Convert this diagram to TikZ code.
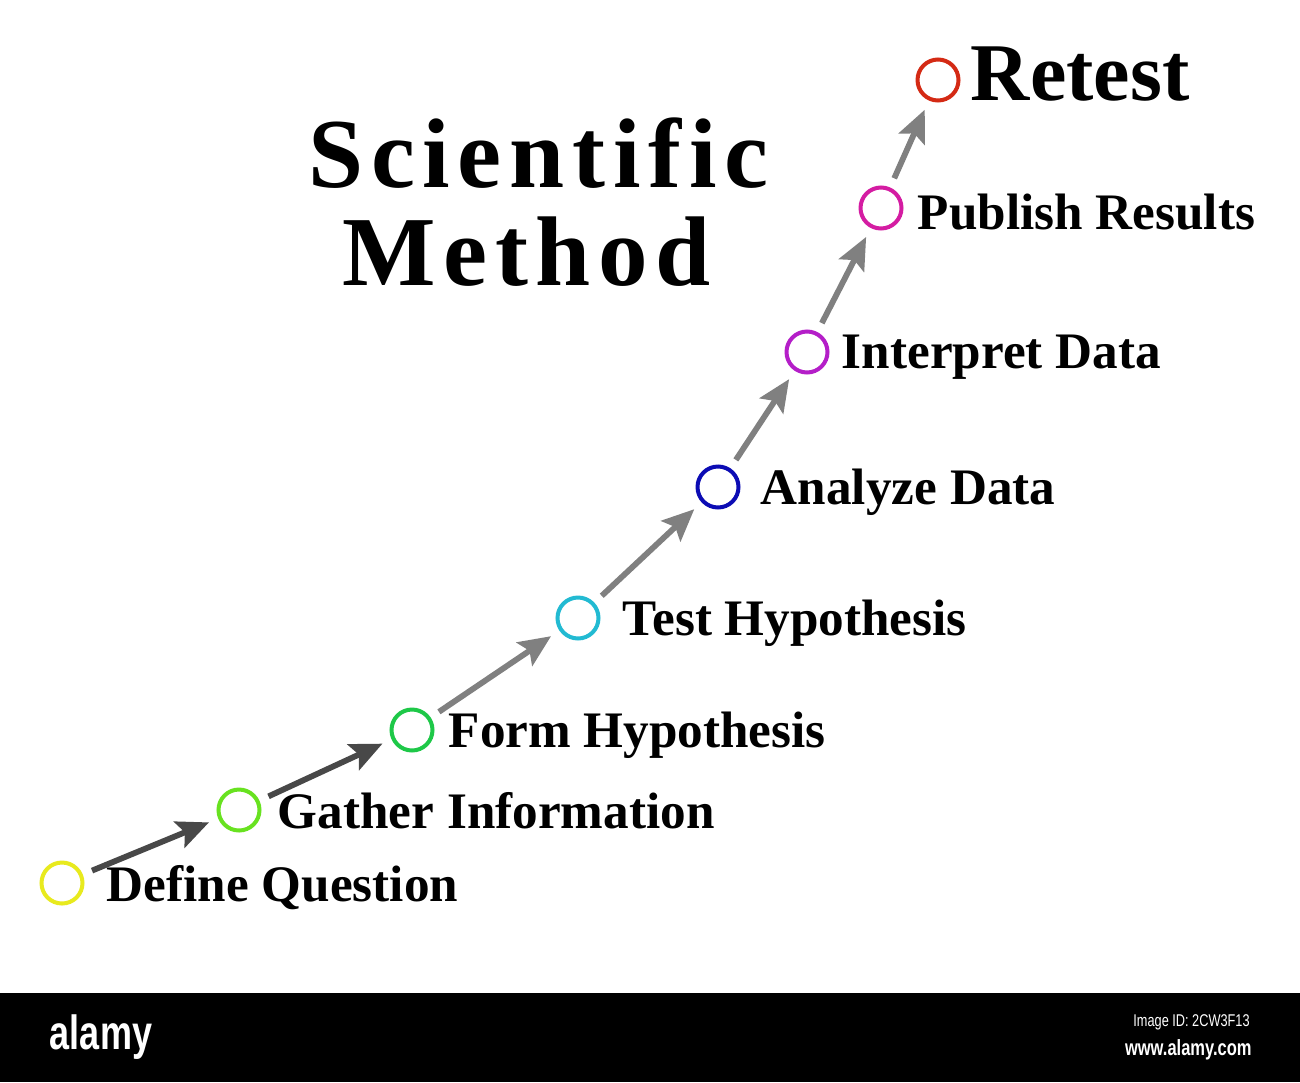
\documentclass[tikz,border=0pt]{standalone}
\usepackage{fontspec}
\setmainfont{Liberation Serif}
\newfontfamily\titlefont[LetterSpace=7.8]{Liberation Serif}
\newfontfamily\wmfont[FakeStretch=0.75]{Liberation Sans}
\usetikzlibrary{arrows.meta,positioning}
\definecolor{cdefine}{RGB}{232,234,30}
\definecolor{cgather}{RGB}{104,226,32}
\definecolor{cform}{RGB}{30,200,72}
\definecolor{ctest}{RGB}{34,186,210}
\definecolor{canalyze}{RGB}{12,12,180}
\definecolor{cinterpret}{RGB}{180,30,200}
\definecolor{cpublish}{RGB}{212,28,162}
\definecolor{cretest}{RGB}{212,42,20}
\definecolor{arrdark}{RGB}{72,72,72}
\definecolor{arrlight}{RGB}{128,128,128}
\begin{document}
\begin{tikzpicture}[x=0.5pt,y=-0.5pt,
    stepdot/.style={circle,draw,line width=2pt,minimum size=20.5pt,inner sep=0pt},
    steplbl/.style={font=\bfseries\fontsize{25.6}{30}\selectfont,inner sep=0pt,text depth=0pt},
    stepto/.style={line width=2.9pt,-{Stealth[length=16pt,width=14pt,inset=3pt]},
        shorten <=5pt,shorten >=5pt}]

                \fill[white] (0,0) rectangle (1300,1082);
                \useasboundingbox (0,0) rectangle (1300,1082);

                \node[stepdot,draw=cdefine]    (c1) at (62,883) {}; %Define Question
                \node[stepdot,draw=cgather]    (c2) at (239,810) {}; %Gather Information
                \node[stepdot,draw=cform]      (c3) at (412,730) {}; %Form Hypothesis
                \node[stepdot,draw=ctest]      (c4) at (578,618) {}; %Test Hypothesis
                \node[stepdot,draw=canalyze]   (c5) at (718,487) {}; %Analyze Data
                \node[stepdot,draw=cinterpret] (c6) at (807,352) {}; %Interpret Data
                \node[stepdot,draw=cpublish]   (c7) at (881,208) {}; %Publish Results
                \node[stepdot,draw=cretest]    (c8) at (938,80) {};  %Retest

                \node[steplbl,right=11pt of c1] (l1) {Define Question};
                \node[steplbl,right=8pt of c2]  (l2) {Gather Information};
                \node[steplbl,right=7pt of c3]  (l3) {Form Hypothesis};
                \node[steplbl,right=11pt of c4] (l4) {Test Hypothesis};
                \node[steplbl,right=10pt of c5] (l5) {Analyze Data};
                \node[steplbl,right=6pt of c6]  (l6) {Interpret Data};
                \node[steplbl,right=7pt of c7,yshift=-2pt] (l7) {Publish Results};
                \node[steplbl,right=5pt of c8,yshift=3pt,font=\bfseries\fontsize{41}{48}\selectfont] (l8) {Retest};

                \foreach \a/\b/\c in {c1/c2/arrdark,c2/c3/arrdark,c3/c4/arrlight,c4/c5/arrlight,
                    c5/c6/arrlight,c6/c7/arrlight,c7/c8/arrlight}
                    \draw[stepto,color=\c] (\a) -- (\b);

                % titel
                \node[anchor=base west,inner sep=0pt,font=\titlefont\bfseries\fontsize{49.5}{60}\selectfont]
                    (t1) at (308,187) {Scientific};
                \node[anchor=base west,inner sep=0pt,font=\titlefont\bfseries\fontsize{49.5}{60}\selectfont]
                    (t2) at (342,285) {Method};

                % stock bar
                \fill[black] (0,993) rectangle (1300,1082);
                \node[white,inner sep=0pt,font=\wmfont\bfseries\fontsize{24}{24}\selectfont] (wm) at (101,1037) {alamy};
                \node[white,anchor=east,inner sep=0pt,font=\wmfont\fontsize{8.5}{10}\selectfont] (wid) at (1250,1022) {Image ID: 2CW3F13};
                \node[white,anchor=east,inner sep=0pt,font=\wmfont\bfseries\fontsize{11}{12}\selectfont] (wurl) at (1252,1050) {www.alamy.com};

            \end{tikzpicture}
\end{document}
